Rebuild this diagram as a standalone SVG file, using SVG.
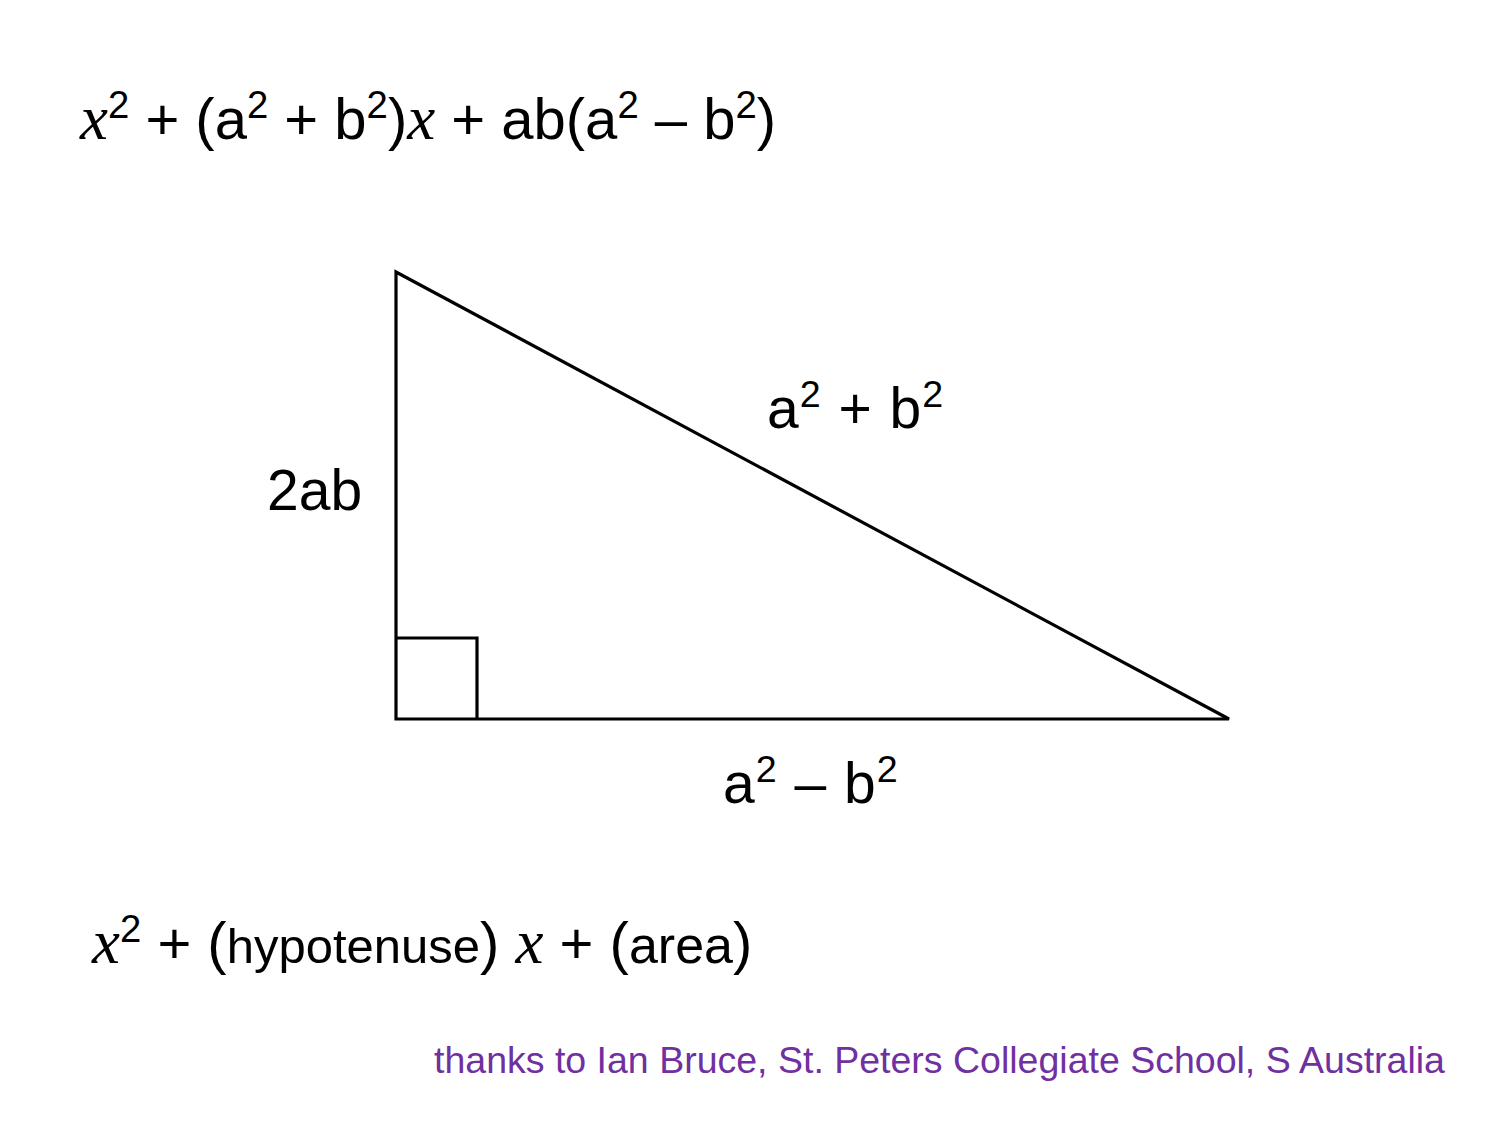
<svg xmlns="http://www.w3.org/2000/svg" width="1500" height="1125" viewBox="0 0 1500 1125">
<style>
.t{font-family:"Liberation Sans",Arial,sans-serif;fill:#000}
.x{font-family:"Liberation Serif","Times New Roman",serif;font-style:italic}
.sup{font-size:0.66em}
.line{fill:none;stroke:#000;stroke-width:3.2}
.credit{font-family:"Liberation Sans",Arial,sans-serif;fill:#7030A0;font-size:37.5px}
</style>
<rect width="1500" height="1125" fill="#fff"/>
<g id="formula-top">
<text class="t" x="80" y="139" font-size="58"><tspan class="x" font-size="63">x</tspan><tspan class="sup" dy="-21">2</tspan><tspan dy="21"> + (a</tspan><tspan class="sup" dy="-21">2</tspan><tspan dy="21"> + b</tspan><tspan class="sup" dy="-21">2</tspan><tspan dy="21">)</tspan><tspan class="x" font-size="63">x</tspan><tspan> + ab(a</tspan><tspan class="sup" dy="-21">2</tspan><tspan dy="21"> – b</tspan><tspan class="sup" dy="-21">2</tspan><tspan dy="21">)</tspan></text>
</g>
<g id="triangle">
<polygon class="line" points="396,272 396,719 1229,719"/>
<polyline class="line" points="396,638 477,638 477,719"/>
</g>
<g id="label-side">
<text class="t" x="267" y="510" font-size="57">2ab</text>
</g>
<g id="label-hyp">
<text class="t" x="767" y="428" font-size="57" letter-spacing="1">a<tspan class="sup" dy="-21">2</tspan><tspan dy="21"> + b</tspan><tspan class="sup" dy="-21">2</tspan></text>
</g>
<g id="label-base">
<text class="t" x="723" y="803" font-size="57" letter-spacing="1">a<tspan class="sup" dy="-21">2</tspan><tspan dy="21"> – b</tspan><tspan class="sup" dy="-21">2</tspan></text>
</g>
<g id="formula-bottom">
<text class="t" x="92" y="963" font-size="58"><tspan class="x" font-size="63">x</tspan><tspan class="sup" dy="-21">2</tspan><tspan dy="21"> + (</tspan><tspan font-size="49">hypotenuse</tspan><tspan>) </tspan><tspan class="x" font-size="63">x</tspan><tspan> + (</tspan><tspan font-size="52">area</tspan><tspan>)</tspan></text>
</g>
<g id="credit">
<text class="credit" x="434" y="1073">thanks to Ian Bruce, St. Peters Collegiate School, S Australia</text>
</g>
</svg>
